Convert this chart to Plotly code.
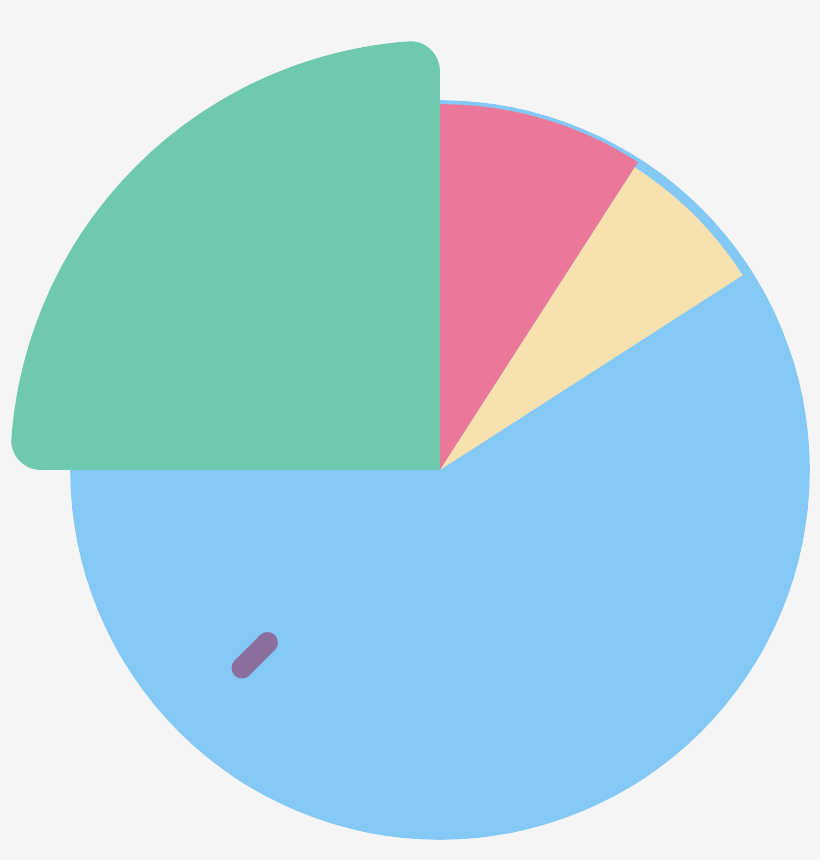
import numpy as np
import plotly.graph_objects as go

# shares of the disc in percent, clockwise from 12 o'clock
slice_labels = ["pink", "yellow"]
slice_shares = [9.1, 6.8]
slice_radius = [366, 360]
slice_colors = ["#ec7899", "#f7e1ae"]

disc_radius = 370
disc_color = "#84c9f5"

# quarter pulled out on the top-left
quarter_share = 25
quarter_radius = 430
quarter_color = "#6fc9ae"
corner_round = 30

# little purple dash inside the disc
dash_theta = [225, 225]
dash_r = [244, 280]
dash_color = "#8c6e9e"

W, H = 820, 860


def rounded_quarter(R, c, n=60):
    # outline of the top-left quarter (x left, y up) with the two outer corners rounded
    d = np.sqrt((R - c) ** 2 - c ** 2)
    pts = [(0, 0)]
    # corner on the horizontal edge
    cx, cy = -d, c
    a0 = np.arctan2(c, -d)
    for a in np.linspace(-np.pi / 2, a0 - 2 * np.pi, n // 3):
        pts.append((cx + c * np.cos(a), cy + c * np.sin(a)))
    # main arc
    a1 = np.arctan2(d, -c)
    for a in np.linspace(a0, a1, n):
        pts.append((R * np.cos(a), R * np.sin(a)))
    # corner on the vertical edge
    cx, cy = -c, d
    for a in np.linspace(a1, 0, n // 3):
        pts.append((cx + c * np.cos(a), cy + c * np.sin(a)))
    pts.append((0, 0))
    xs = np.array([p[0] for p in pts])
    ys = np.array([p[1] for p in pts])
    r = np.hypot(xs, ys)
    th = np.degrees(np.arctan2(xs, ys)) % 360
    return r, th


fig = go.Figure()

# full disc in the back
fig.add_trace(go.Barpolar(r=[disc_radius], theta=[180], width=[360],
                          marker_color=disc_color, marker_line_width=0,
                          subplot="polar", hoverinfo="skip"))

start = 0
for lab, share, rad, col in zip(slice_labels, slice_shares, slice_radius, slice_colors):
    w = share * 3.6
    fig.add_trace(go.Barpolar(r=[rad], theta=[start + w / 2], width=[w], name=lab,
                              marker_color=col, marker_line_width=0, subplot="polar"))
    start += w

fig.add_trace(go.Scatterpolar(r=dash_r, theta=dash_theta, mode="lines+markers",
                              line=dict(color=dash_color, width=21),
                              marker=dict(color=dash_color, size=21),
                              subplot="polar", hoverinfo="skip"))

qr, qth = rounded_quarter(quarter_radius, corner_round)
fig.add_trace(go.Scatterpolar(r=qr, theta=qth, mode="lines", fill="toself",
                              fillcolor=quarter_color, line=dict(width=0, color=quarter_color),
                              subplot="polar2", hoverinfo="skip"))

hidden = dict(visible=False, showgrid=False, showline=False, showticklabels=False, ticks="")

fig.update_layout(
    width=W, height=H,
    margin=dict(l=0, r=0, t=0, b=0),
    paper_bgcolor="#f5f5f5",
    showlegend=False,
    polar=dict(
        domain=dict(x=[70 / W, 810 / W], y=[(H - 840) / H, (H - 100) / H]),
        bgcolor="rgba(0,0,0,0)",
        radialaxis=dict(range=[0, disc_radius], **hidden),
        angularaxis=dict(rotation=90, direction="clockwise", **hidden),
    ),
    polar2=dict(
        domain=dict(x=[10 / W, 440 / W], y=[(H - 470) / H, (H - 40) / H]),
        sector=[90, 180],
        bgcolor="rgba(0,0,0,0)",
        radialaxis=dict(range=[0, quarter_radius], **hidden),
        angularaxis=dict(rotation=90, direction="clockwise", **hidden),
    ),
)

fig.write_html("out.html", config={"displayModeBar": False},
               post_script="document.body.style.margin='0';document.body.style.background='#f5f5f5';")
